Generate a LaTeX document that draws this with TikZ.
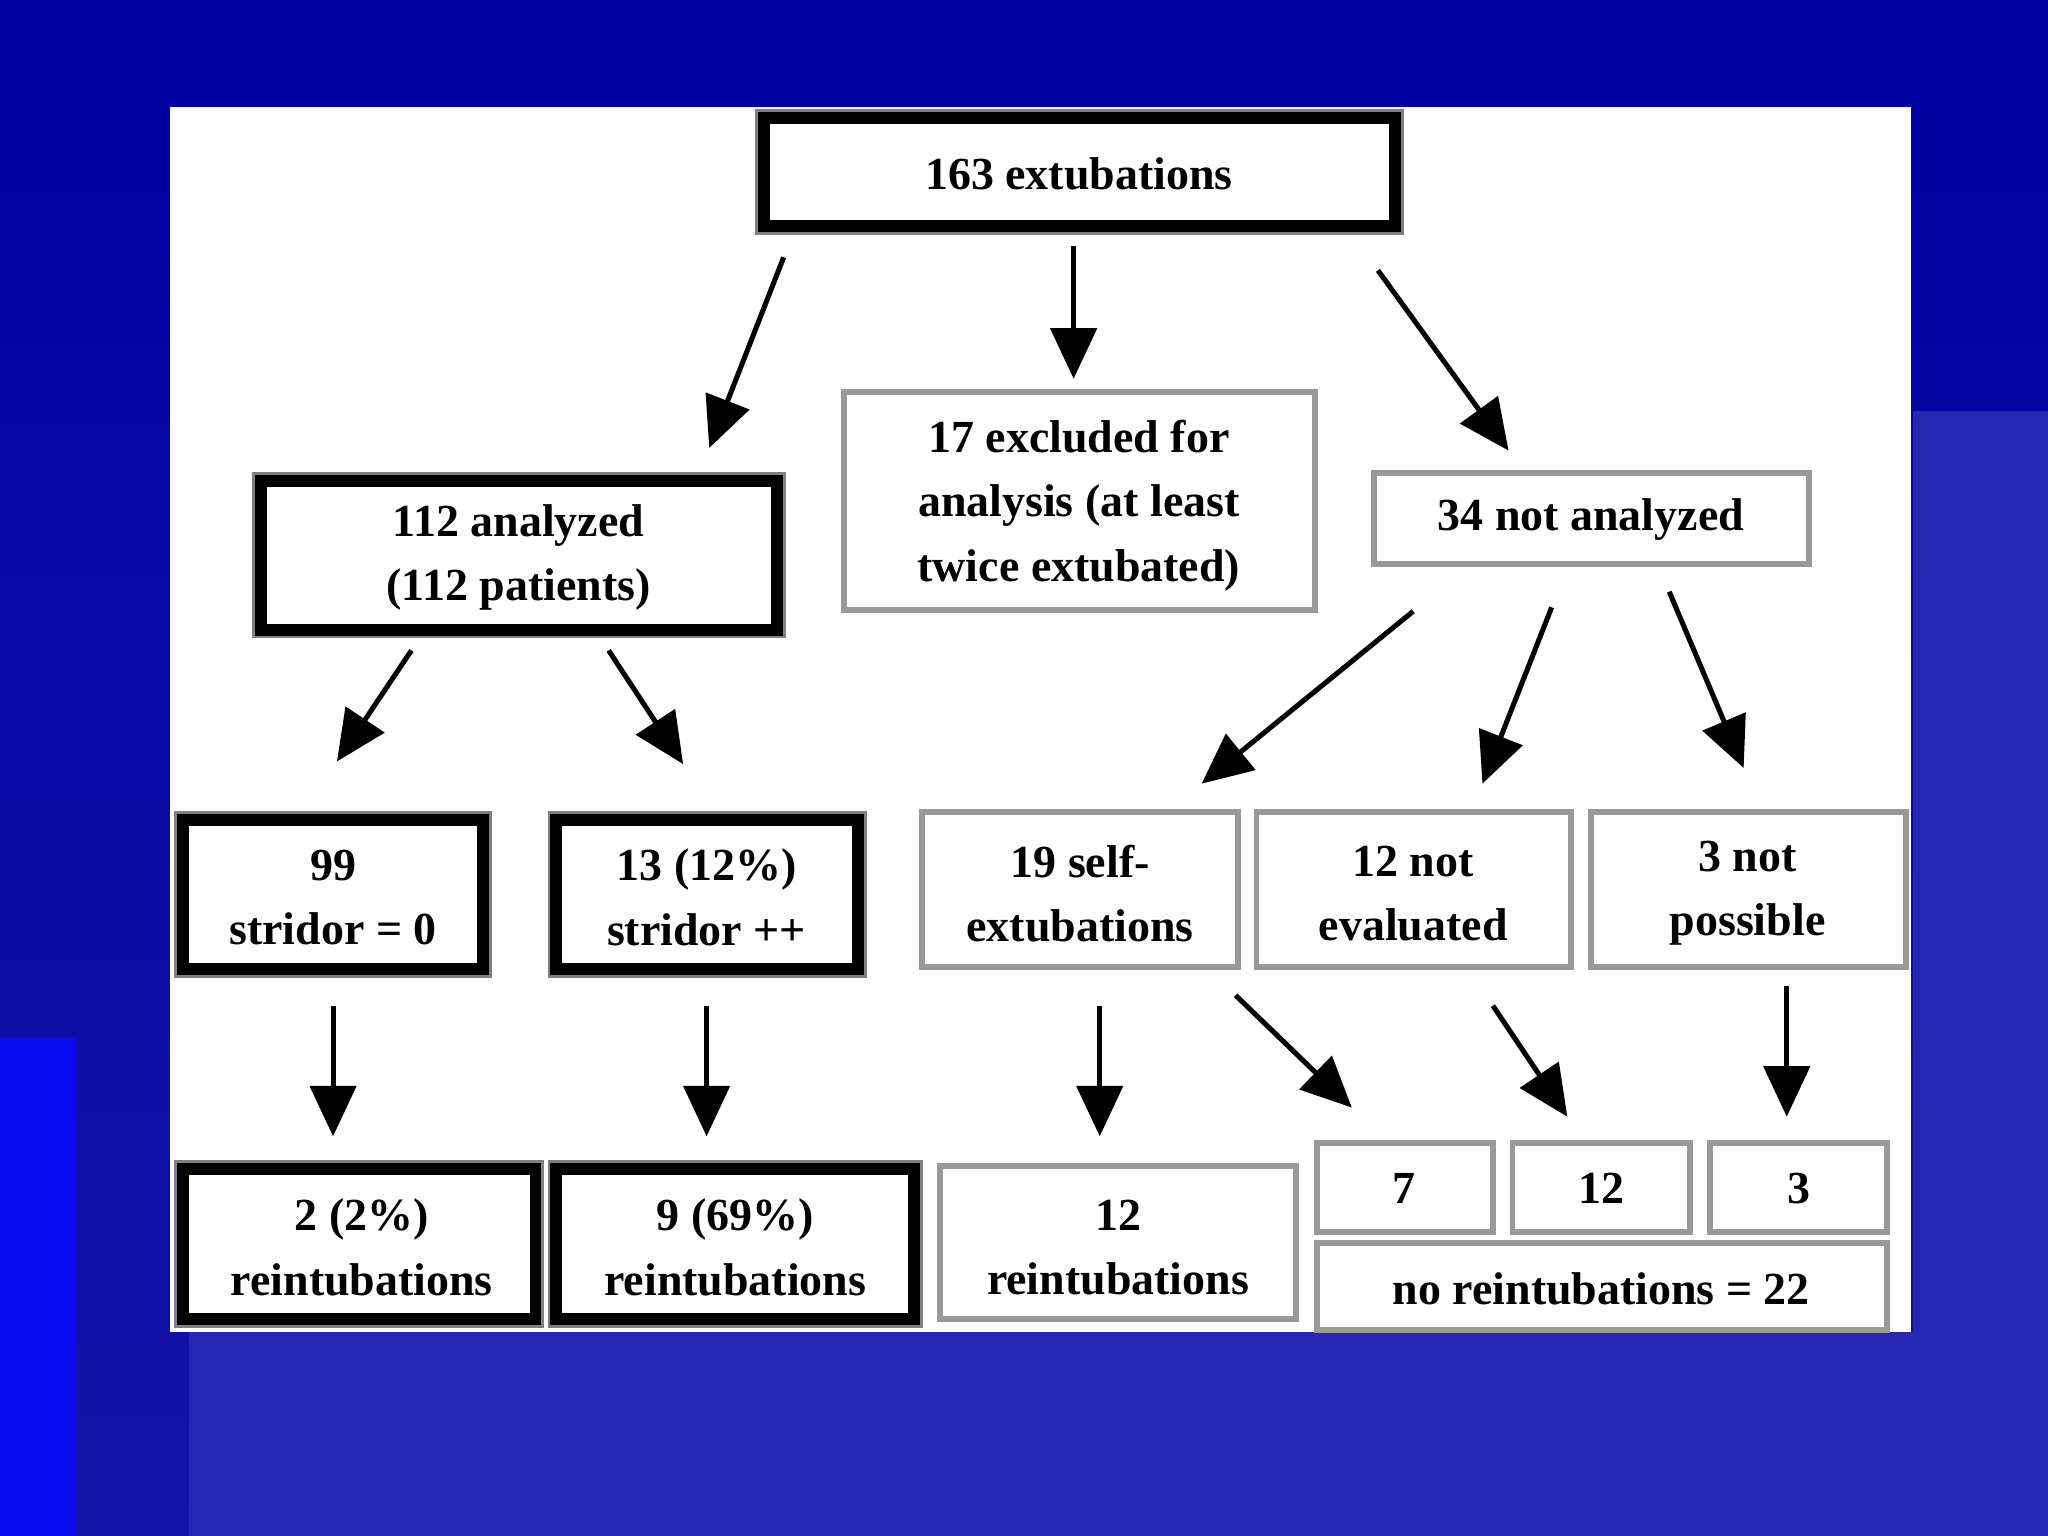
\documentclass[tikz,border=0pt]{standalone}
\usepackage{fontspec}
\setmainfont{Liberation Serif}
\usetikzlibrary{arrows.meta}
\begin{document}
\begin{tikzpicture}[x=0.01cm,y=-0.01cm,
  txt/.style={font=\fontsize{10}{14}\selectfont\bfseries,align=center},
  arr/.style={line width=1.1pt,-{Triangle[length=11pt,width=10pt]}}]
\definecolor{bgtop}{HTML}{0000A0}
\definecolor{bgbot}{HTML}{1414A8}
\definecolor{bgpale}{HTML}{2626B0}
\definecolor{bgleft}{HTML}{0A0AF0}
\useasboundingbox (0,0) rectangle (1568,1176);
\shade[top color=bgtop,bottom color=bgbot] (0,0) rectangle (1568,1176);
\fill[bgleft] (0,795) rectangle (58,1176);
\fill[bgpale] (1465,315) rectangle (1568,1176);
\fill[bgpale] (145,1020) rectangle (1568,1176);
\fill[white] (130,82) rectangle (1463,1020);
\newcommand{\tbox}[4]{\draw[gray,line width=1pt] (#1,#2) rectangle (#3,#4);
  \draw[black,line width=2.6pt] (#1+5,#2+5) rectangle (#3-5,#4-5);}
\newcommand{\nbox}[4]{\draw[gray!80,line width=1.3pt] (#1,#2) rectangle (#3,#4);}
\tbox{580}{85}{1073}{178}
\tbox{195}{363}{600}{487}
\nbox{646}{300}{1007}{467}
\nbox{1052}{362}{1385}{432}
\tbox{135}{623}{375}{747}
\tbox{421}{623}{662}{747}
\nbox{706}{622}{948}{740}
\nbox{962}{622}{1203}{740}
\nbox{1218}{622}{1459}{740}
\tbox{135}{890}{415}{1015}
\tbox{421}{890}{705}{1015}
\nbox{720}{893}{992}{1010}
\nbox{1008}{875}{1143}{943}
\nbox{1158}{875}{1294}{943}
\nbox{1309}{875}{1445}{943}
\nbox{1008}{952}{1445}{1018}
\node[txt] (top) at (826,133) {163 extubations};
\node[txt] (ana) at (397,427) {112 analyzed\\(112 patients)};
\node[txt] (exc) at (826,387) {17 excluded for\\analysis (at least\\twice extubated)};
\node[txt] (nan) at (1218,398) {34 not analyzed};
\node[txt] (n99) at (255,687) {99\\stridor = 0};
\node[txt] (n13) at (541,687) {13 (12\%)\\stridor ++};
\node[txt] (n19) at (827,684) {19 self-\\extubations};
\node[txt] (n12) at (1082,684) {12 not\\evaluated};
\node[txt] (n3) at (1338,684) {3 not\\possible};
\node[txt] (r2) at (277,955) {2 (2\%)\\reintubations};
\node[txt] (r9) at (563,955) {9 (69\%)\\reintubations};
\node[txt] (r12) at (856,955) {12\\reintubations};
\node[txt] (a7) at (1075,910) {7};
\node[txt] (a12) at (1226,910) {12};
\node[txt] (a3) at (1377,910) {3};
\node[txt] (nr) at (1226,987) {no reintubations = 22};
\foreach \n/\x/\y in {a1/600/197,b1/543/343,a2/822/188,b2/822/290,a3s/1055/207,b3/1155/345,
 a4/315/498,b4/258/583,a5/466/498,b5/523/585,
 a6/1082/468,b6/920/600,a7s/1188/465,b7/1135/600,a8/1278/453,b8/1335/588,
 a9/255/770,b9/255/870,a10/541/770,b10/541/870,a11/842/770,b11/842/870,
 a12s/946/762,b12/1035/848,a13/1143/770,b13/1200/855,a14/1368/755,b14/1368/855}
 \coordinate (\n) at (\x,\y);
\foreach \s/\e in {a1/b1,a2/b2,a3s/b3,a4/b4,a5/b5,a6/b6,a7s/b7,a8/b8,a9/b9,a10/b10,a11/b11,a12s/b12,a13/b13,a14/b14}
 \draw[arr] (\s) -- (\e);
\end{tikzpicture}
\end{document}
